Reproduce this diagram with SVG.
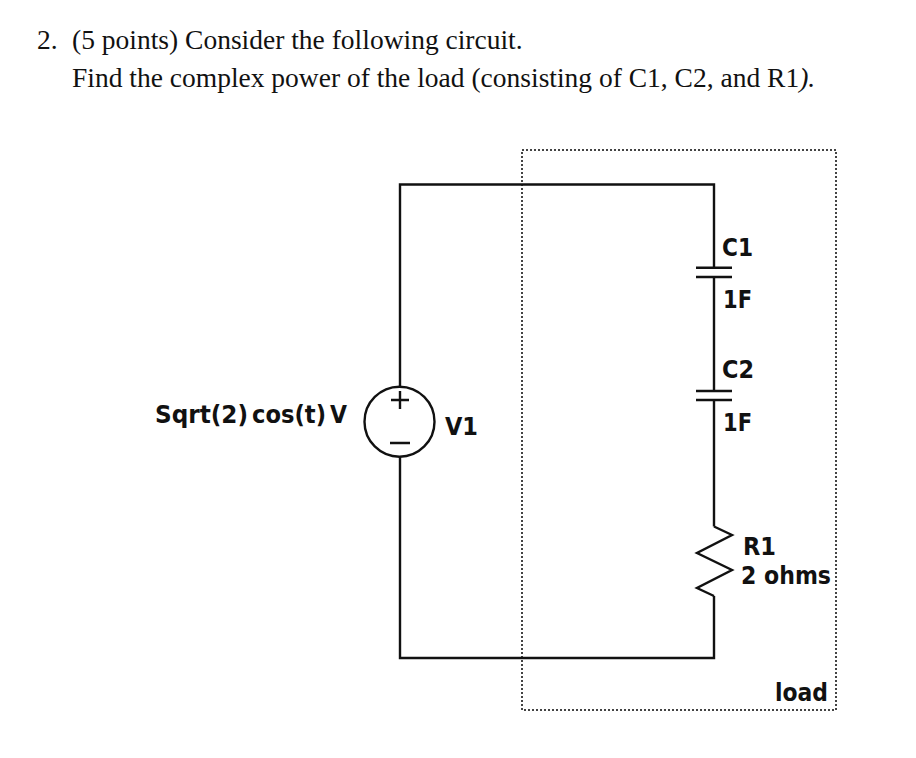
<svg xmlns="http://www.w3.org/2000/svg" width="916" height="758" viewBox="0 0 916 758">
<style>
.w{fill:none;stroke:#111;stroke-width:2.4}
.q{font-family:"Liberation Serif",serif;font-size:27.500px;fill:#111}
.l{font-family:"DejaVu Sans",sans-serif;font-weight:bold;font-size:24px;fill:#111}
</style>
<rect width="916" height="758" fill="#fff"/>
<g id="question">
<text class="q" x="37" y="49">2.</text>
<text class="q" x="72" y="49">(5 points) Consider the following circuit.</text>
<text class="q" x="72" y="87">Find the complex power of the load (consisting of C1, C2, and R1<tspan font-style="italic">).</tspan></text>
</g>
<g id="load-box"><rect x="522" y="150" width="314" height="560" fill="none" stroke="#444" stroke-width="2" stroke-dasharray="2 2"/>
<text class="l" x="775" y="701" textLength="53" lengthAdjust="spacingAndGlyphs">load</text></g>
<g id="connectors">
<path class="w" d="M400 386.500V184.500H714V267.500M714 277V391M714 400V526.500M714 596V658H400V457"/>
</g>
<g id="V1">
<circle class="w" cx="399.500" cy="421.700" r="35"/>
<path class="w" d="M391 400H409M400 391V409M390 443H410"/>
<text class="l" x="445" y="435" textLength="33" lengthAdjust="spacingAndGlyphs">V1</text>
<text class="l" x="155" y="423" textLength="93" lengthAdjust="spacingAndGlyphs">Sqrt(2)</text>
<text class="l" x="252" y="423" textLength="74" lengthAdjust="spacingAndGlyphs">cos(t)</text>
<text class="l" x="330" y="423" textLength="17" lengthAdjust="spacingAndGlyphs">V</text>
</g>
<g id="C1">
<path class="w" d="M696 267.700H732M696 277H732"/>
<text class="l" x="722" y="256" textLength="31" lengthAdjust="spacingAndGlyphs">C1</text>
<text class="l" x="723" y="308" textLength="29" lengthAdjust="spacingAndGlyphs">1F</text>
</g>
<g id="C2">
<path class="w" d="M696 391H732M696 400H732"/>
<text class="l" x="722" y="378" textLength="32" lengthAdjust="spacingAndGlyphs">C2</text>
<text class="l" x="723" y="431" textLength="29" lengthAdjust="spacingAndGlyphs">1F</text>
</g>
<g id="R1">
<path class="w" d="M714 526.500L732 535L697 553L732 570L697 588L714 596"/>
<text class="l" x="743" y="555" textLength="33" lengthAdjust="spacingAndGlyphs">R1</text>
<text class="l" x="741" y="584" textLength="90" lengthAdjust="spacingAndGlyphs">2 ohms</text>
</g>
</svg>
